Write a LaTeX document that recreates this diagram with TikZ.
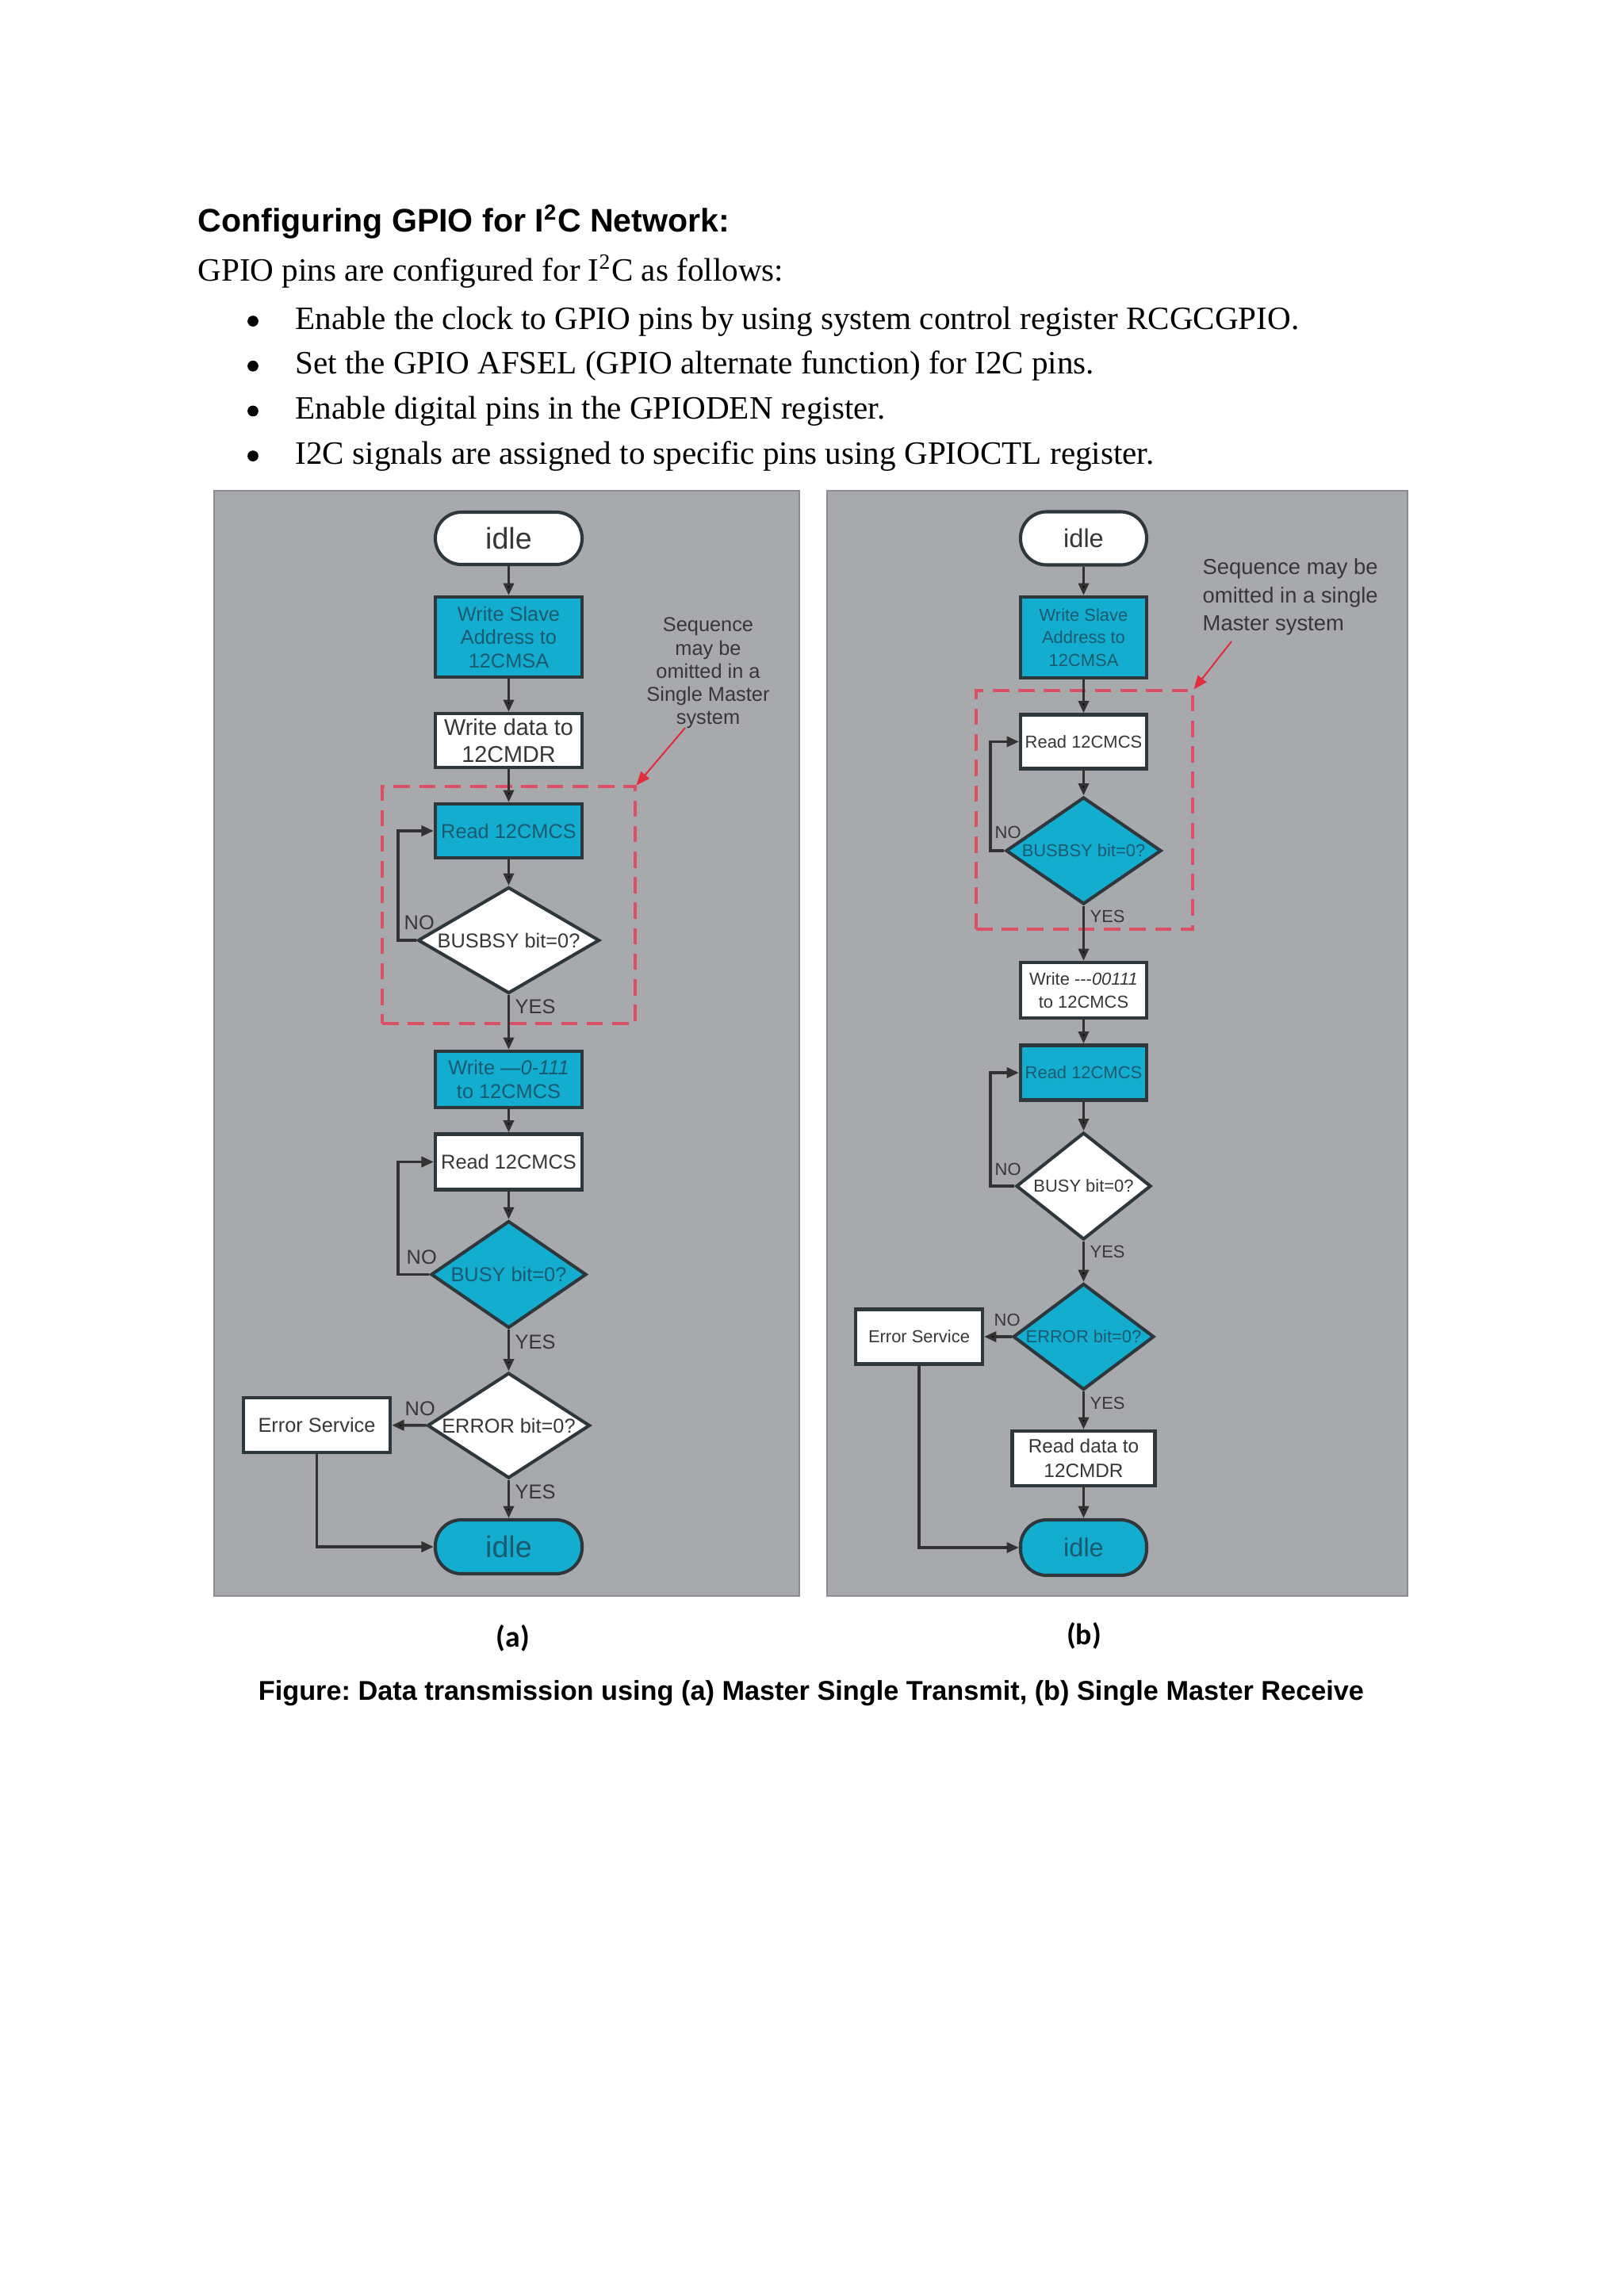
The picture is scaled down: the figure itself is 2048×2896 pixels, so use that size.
\documentclass[tikz,border=0pt]{standalone}
\usepackage{fontspec}
\setmainfont{Liberation Serif}
\setsansfont{Liberation Sans}
\newfontfamily\calfont{Carlito}
\usetikzlibrary{arrows.meta,shapes.geometric,positioning}
\definecolor{panelgray}{HTML}{A8A9AD}
\definecolor{paneledge}{HTML}{8A8B8F}
\definecolor{boxblue}{HTML}{13ADD0}
\definecolor{boxedge}{HTML}{2D373C}
\definecolor{bluetext}{HTML}{1A5A6E}
\definecolor{linegray}{HTML}{323232}
\definecolor{greytext}{HTML}{373737}
\definecolor{seqred}{HTML}{DC5064}
\definecolor{arrred}{HTML}{E12D3C}
\newcommand\dtext[1]{\makebox[0pt]{#1}}
\frenchspacing

\begin{document}
\begin{tikzpicture}[x=0.29175pt, y=-0.29175pt,
  every node/.style={inner sep=0pt},
  sa/.style={font=\sffamily\fontsize{7.4}{8.6}\selectfont},
  sb/.style={font=\sffamily\fontsize{6.4}{8.4}\selectfont},
  wbox/.style={rectangle, draw=boxedge, line width=1.2pt, fill=white, text=greytext, align=center},
  bbox/.style={wbox, fill=boxblue, text=bluetext},
  wdia/.style={diamond, aspect=1.7, draw=boxedge, line width=1.2pt, fill=white, text=greytext},
  bdia/.style={wdia, fill=boxblue, text=bluetext},
  term/.style={rounded corners=9.6pt},
  flow/.style={draw=linegray, line width=1.05pt, -{Triangle[length=4.5pt,width=3.8pt]}},
  lbl/.style={text=greytext, anchor=west},
  panel/.style={fill=panelgray, draw=paneledge, line width=0.8pt},
  seqbox/.style={draw=seqred, line width=0.9pt, dash pattern=on 6pt off 3.4pt},
  note/.style={text=greytext, align=center},
  redarrow/.style={draw=arrred, line width=0.6pt, -{Triangle[length=5pt,width=4pt]}},
  dotmark/.style={circle, fill=black, minimum size=4pt}
]
\fill[white] (0,0) rectangle (2048,2896);
\useasboundingbox (0,0) rectangle (2048,2896);

\node[anchor=base west, font=\sffamily\bfseries\fontsize{12}{14}\selectfont] (head) at (249,292)
  {Configuring GPIO for I\textsuperscript{2}C Network:};
\node[anchor=base west, font=\rmfamily\fontsize{12}{14}\selectfont] (intro) at (249,354)
  {GPIO pins are configured for I\textsuperscript{2}C as follows:};
\foreach \t [count=\i] in {
  {Enable the clock to GPIO pins by using system control register RCGCGPIO.},
  {Set the GPIO AFSEL (GPIO alternate function) for I2C pins.},
  {Enable digital pins in the GPIODEN register.},
  {I2C signals are assigned to specific pins using GPIOCTL register.}}
{
  \node[dotmark] (dot\i) at (319,348.3+56.7*\i) {};
  \node[anchor=base west, font=\rmfamily\fontsize{12}{14}\selectfont] (item\i) at (372,358.3+56.7*\i) {\t};
}

\draw[panel] (270,619) rectangle (1008,2013);
\draw[panel] (1043,619) rectangle (1775,2013);

% (a)
\node[seqbox, minimum width=93.07pt, minimum height=87.23pt] (seqA) at (641.5,1141.5) {};
\node[wbox, term, minimum width=54pt, minimum height=19.26pt, font=\sffamily\fontsize{11}{13}\selectfont] (idA1) at (641.5,679) {idle};
\node[bbox, sa, minimum width=54pt, minimum height=29.47pt] (wsA) at (641.5,803.5) {Write Slave\\Address to\\12CMSA};
\node[wbox, minimum width=54pt, minimum height=19.84pt, font=\sffamily\fontsize{8.4}{9.9}\selectfont] (wdA) at (641.5,934) {Write data to\\12CMDR};
\node[bbox, sa, minimum width=54pt, minimum height=19.84pt] (rdA) at (641.5,1048) {Read 12CMCS};
\node[wdia, sa, minimum width=66.8pt, minimum height=39.1pt] (bbA) at (641.5,1186) {\dtext{BUSBSY bit=0?}};
\node[bbox, font=\sffamily\fontsize{7.4}{8.8}\selectfont, minimum width=54pt, minimum height=20.71pt] (wrA) at (641.5,1361.5) {Write ---\textit{0-111}\\to 12CMCS};
\node[wbox, sa, minimum width=54pt, minimum height=20.42pt] (rcA) at (641.5,1465.5) {Read 12CMCS};
\node[bdia, sa, minimum width=57.2pt, minimum height=39.4pt] (byA) at (641.5,1607.5) {\dtext{BUSY bit=0?}};
\node[wdia, sa, minimum width=59.8pt, minimum height=38.8pt] (erA) at (641.5,1798) {\dtext{ERROR bit=0?}};
\node[wbox, sa, minimum width=54pt, minimum height=20.13pt] (esA) at (399.5,1797.5) {Error Service};
\node[bbox, term, minimum width=54pt, minimum height=19.84pt, font=\sffamily\fontsize{11}{13}\selectfont] (idA2) at (641.5,1951) {idle};
\coordinate (lpA) at (502,1000);

\path[flow] (idA1) edge (wsA) (wsA) edge (wdA) (wdA) edge (rdA) (rdA) edge (bbA)
  (bbA) edge (wrA) (wrA) edge (rcA) (rcA) edge (byA) (byA) edge (erA)
  (erA) edge (idA2) (erA) edge (esA);
\draw[flow] (bbA.west) -- (bbA.west -| lpA) |- (rdA.west);
\draw[flow] (byA.west) -- (byA.west -| lpA) |- (rcA.west);
\draw[flow] (esA) |- (idA2);

\node[lbl, sa] (noA1) at (509,1164) {NO};
\node[lbl, sa] (yesA1) at (649,1270) {YES};
\node[lbl, sa] (noA2) at (512,1586) {NO};
\node[lbl, sa] (yesA2) at (649,1693) {YES};
\node[lbl, sa] (noA3) at (510,1777) {NO};
\node[lbl, sa] (yesA3) at (649,1882) {YES};

\node[note, font=\sffamily\fontsize{7.4}{8.5}\selectfont] (annA) at (893,849) {Sequence\\may be\\omitted in a\\Single Master\\system};
\coordinate (tA) at (864,918);
\draw[redarrow] (tA) -- (seqA.north east);

% (b)
\node[seqbox, minimum width=79.65pt, minimum height=87.82pt] (seqB) at (1367.5,1021.5) {};
\node[wbox, term, minimum width=46.39pt, minimum height=19.55pt, font=\sffamily\fontsize{9.5}{11}\selectfont] (idB1) at (1366.5,679) {idle};
\node[bbox, sb, minimum width=46.39pt, minimum height=29.76pt] (wsB) at (1366.5,804) {Write Slave\\Address to\\12CMSA};
\node[wbox, sb, minimum width=46.39pt, minimum height=19.84pt] (rdB) at (1366.5,935.5) {Read 12CMCS};
\node[bdia, sb, minimum width=57.2pt, minimum height=39.4pt] (bbB) at (1366.5,1073) {\dtext{BUSBSY bit=0?}};
\node[wbox, sb, minimum width=46.39pt, minimum height=20.42pt] (wrB) at (1366.5,1249) {Write -{}-{}-\textit{00111}\\to 12CMCS};
\node[bbox, sb, minimum width=46.39pt, minimum height=20.13pt] (rcB) at (1366.5,1353) {Read 12CMCS};
\node[wdia, sb, minimum width=49.6pt, minimum height=39.4pt] (byB) at (1366.5,1496) {\dtext{BUSY bit=0?}};
\node[bdia, sb, minimum width=51.9pt, minimum height=39.1pt] (erB) at (1366.5,1686) {\dtext{ERROR bit=0?}};
\node[wbox, sb, minimum width=46.68pt, minimum height=20.13pt] (esB) at (1159,1686) {Error Service};
\node[wbox, font=\sffamily\fontsize{7.1}{9.1}\selectfont, minimum width=52.52pt, minimum height=20.13pt] (rdD) at (1366.5,1839.5) {Read data to\\12CMDR};
\node[bbox, term, minimum width=46.39pt, minimum height=20.42pt, font=\sffamily\fontsize{9.5}{11}\selectfont] (idB2) at (1366.5,1952) {idle};
\coordinate (lpB) at (1249,1000);

\path[flow] (idB1) edge (wsB) (wsB) edge (rdB) (rdB) edge (bbB) (bbB) edge (wrB)
  (wrB) edge (rcB) (rcB) edge (byB) (byB) edge (erB) (erB) edge (rdD)
  (rdD) edge (idB2) (erB) edge (esB);
\draw[flow] (bbB.west) -- (bbB.west -| lpB) |- (rdB.west);
\draw[flow] (byB.west) -- (byB.west -| lpB) |- (rcB.west);
\draw[flow] (esB) |- (idB2);

\node[lbl, sb] (noB1) at (1254,1050) {NO};
\node[lbl, sb] (yesB1) at (1374,1156) {YES};
\node[lbl, sb] (noB2) at (1254,1475) {NO};
\node[lbl, sb] (yesB2) at (1374,1579) {YES};
\node[lbl, sb] (noB3) at (1253,1665) {NO};
\node[lbl, sb] (yesB3) at (1374,1770) {YES};

\node[note, align=left, anchor=west, font=\sffamily\fontsize{8}{10.4}\selectfont] (annB) at (1516,753) {Sequence may be\\omitted in a single\\Master system};
\coordinate (tB) at (1553,809);
\draw[redarrow] (tB) -- (seqB.north east);

\node[font=\calfont\bfseries\fontsize{11}{13}\selectfont] (labA) at (647,2066) {(a)};
\node[font=\calfont\bfseries\fontsize{11}{13}\selectfont] (labB) at (1367,2063) {(b)};
\node[anchor=base, font=\sffamily\bfseries\fontsize{10}{12}\selectfont] (cap) at (1023,2144)
  {Figure: Data transmission using (a) Master Single Transmit, (b) Single Master Receive};
\end{tikzpicture}
\end{document}
